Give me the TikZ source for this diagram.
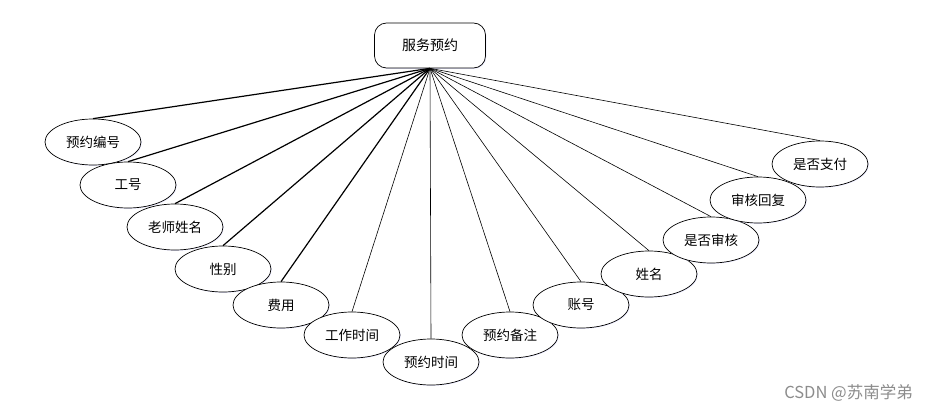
\documentclass[tikz,border=0pt]{standalone}
\usepackage{fontspec}
\setmainfont{Noto Sans CJK SC}
\usetikzlibrary{shapes.geometric,shadows}

\begin{document}
\begin{tikzpicture}[x=1pt,y=-1pt,
    attr/.style={draw,ellipse,line width=0.7pt,fill=white,minimum width=96pt,minimum height=46pt,inner sep=0pt,font=\fontsize{13.5}{14}\selectfont,
      drop shadow={shadow xshift=0.8pt,shadow yshift=-0.8pt,fill=blue!12,opacity=0.7}},
    entity/.style={draw,rectangle,rounded corners=12pt,line width=0.7pt,fill=white,minimum width=111pt,minimum height=45pt,font=\fontsize{14}{15}\selectfont,
      drop shadow={shadow xshift=0.8pt,shadow yshift=-0.8pt,fill=blue!12,opacity=0.7}},
    heavy/.style={line width=1.2pt},
    light/.style={line width=0.6pt}]
    \useasboundingbox (0,0) rectangle (926,412);

    \node[entity] (service-appt) at (430,45.5) {服务预约};

    \node[attr] (appt-id)      at (93,142)  {预约编号};
    \node[attr] (staff-no)     at (128,185) {工号};
    \node[attr] (teacher-name) at (175,227) {老师姓名};
    \node[attr] (gender)       at (223,269) {性别};
    \node[attr] (fee)          at (281,305) {费用};
    \node[attr] (work-time)    at (352,335) {工作时间};
    \node[attr] (appt-time)    at (431,362) {预约时间};
    \node[attr] (appt-note)    at (510,335) {预约备注};
    \node[attr] (account)      at (581,305) {账号};
    \node[attr] (name)         at (649,274) {姓名};
    \node[attr] (is-reviewed)  at (711,240) {是否审核};
    \node[attr] (review-reply) at (758,200) {审核回复};
    \node[attr] (is-paid)      at (820,164) {是否支付};

    \draw[heavy] (service-appt.south) -- (appt-id.north);
    \draw[heavy] (service-appt.south) -- (staff-no.north);
    \draw[heavy] (service-appt.south) -- (teacher-name.north);
    \draw[heavy] (service-appt.south) -- (gender.north);
    \draw[heavy] (service-appt.south) -- (fee.north);
    \draw[light] (service-appt.south) -- (work-time.north);
    \draw[light] (service-appt.south) -- (appt-time.north);
    \draw[light] (service-appt.south) -- (appt-note.north);
    \draw[light] (service-appt.south) -- (account.north);
    \draw[light] (service-appt.south) -- (name.north);
    \draw[light] (service-appt.south) -- (is-reviewed.north);
    \draw[light] (service-appt.south) -- (review-reply.north);
    \draw[light] (service-appt.south) -- (is-paid.north);

    \node[text=black!45,font=\fontsize{16.5}{17}\selectfont,anchor=east,inner sep=0pt] (watermark) at (913,393) {CSDN @苏南学弟};
\end{tikzpicture}
\end{document}
